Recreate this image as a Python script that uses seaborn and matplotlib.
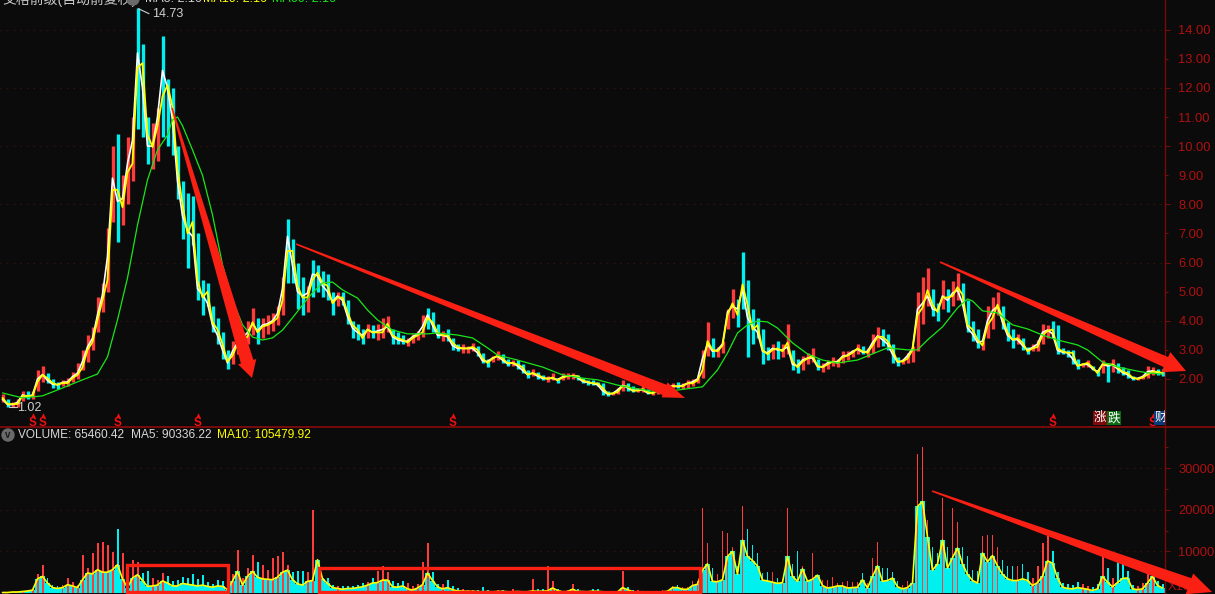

import matplotlib

matplotlib.use("Agg")
import matplotlib.pyplot as plt
import numpy as np
import pandas as pd
import seaborn as sns
from matplotlib.patches import Ellipse, FancyBboxPatch, Polygon

W, H = 1215, 594
AXIS_X = 1165
SPLIT_Y = 427

# price panel: one entry per 5 px column
high = [
    1.5, 1.3, 1.2, 1.3, 1.6, 1.6, 1.6, 2.3, 2.45, 2.2,
    2.0, 1.9, 1.95, 2.05, 2.25, 2.55, 3.0, 3.5, 3.8, 4.8,
    5.3, 7.2, 10.0, 10.4, 9.0, 10.3, 11.0, 14.73, 13.5, 11.0,
    10.8, 11.3, 13.8, 12.3, 12.0, 10.0, 8.8, 8.4, 8.3, 7.0,
    5.4, 5.3, 4.5, 4.1, 3.6, 3.0, 3.3, 3.5, 3.6, 4.0,
    4.45, 4.1, 4.1, 4.2, 4.25, 4.5, 5.5, 7.5, 6.8, 6.0,
    5.5, 5.2, 6.1, 5.9, 5.7, 5.6, 5.0, 5.0, 5.0, 4.7,
    4.0, 3.9, 3.7, 3.9, 3.85, 3.9, 4.1, 4.15, 3.7, 3.6,
    3.5, 3.4, 3.55, 3.65, 4.2, 4.45, 4.3, 3.9, 3.65, 3.7,
    3.4, 3.2, 3.2, 3.15, 3.25, 3.15, 2.9, 2.7, 2.8, 2.95,
    2.85, 2.7, 2.65, 2.65, 2.5, 2.3, 2.35, 2.25, 2.15, 2.1,
    2.2, 2.05, 2.2, 2.2, 2.2, 2.15, 2.05, 1.95, 1.95, 1.9,
    1.85, 1.6, 1.55, 1.7, 1.95, 1.85, 1.75, 1.7, 1.8, 1.65,
    1.6, 1.65, 1.75, 1.8, 1.85, 1.9, 1.85, 1.95, 2.0, 2.05,
    3.0, 3.95, 3.4, 3.1, 3.3, 4.4, 5.1, 4.75, 6.35, 5.4,
    4.4, 4.1, 3.7, 3.1, 3.2, 3.3, 3.2, 3.9, 3.0, 2.7,
    2.8, 2.9, 3.05, 2.7, 2.55, 2.65, 2.75, 2.7, 2.95, 2.95,
    3.0, 3.2, 3.15, 3.05, 3.55, 3.8, 3.7, 3.55, 3.2, 2.75,
    2.7, 2.9, 3.15, 5.0, 5.5, 5.8, 5.1, 4.6, 5.4, 5.1,
    5.35, 5.65, 5.3, 4.7, 4.0, 3.7, 3.3, 4.5, 4.8, 5.0,
    4.5, 3.95, 3.7, 3.55, 3.4, 3.1, 3.2, 3.35, 3.9, 3.85,
    4.0, 3.85, 3.05, 3.0, 3.0, 2.7, 2.55, 2.65, 2.45, 2.3,
    2.65, 2.55, 2.7, 2.55, 2.4, 2.3, 2.1, 2.05, 2.15, 2.45, 2.4, 2.35, 2.35,
]
low = [
    1.2, 1.02, 1.03, 1.05, 1.25, 1.3, 1.3, 1.6, 1.9, 1.85,
    1.7, 1.65, 1.75, 1.75, 1.9, 2.0, 2.3, 2.6, 3.0, 3.6,
    4.3, 5.0, 7.4, 6.7, 7.3, 8.0, 8.8, 10.6, 10.3, 9.4,
    9.2, 9.5, 10.3, 10.0, 9.7, 8.2, 6.8, 5.8, 6.6, 4.7,
    4.2, 4.5, 3.6, 3.2, 2.7, 2.35, 2.5, 2.85, 3.0, 3.2,
    3.5, 3.2, 3.4, 3.55, 3.65, 3.85, 4.2, 5.3, 5.3, 4.4,
    4.2, 4.3, 4.8, 5.0, 4.8, 4.7, 4.2, 4.5, 4.55, 3.9,
    3.4, 3.35, 3.2, 3.4, 3.4, 3.35, 3.4, 3.6, 3.2, 3.2,
    3.2, 3.15, 3.25, 3.35, 3.45, 3.7, 3.6, 3.4, 3.3, 3.3,
    3.0, 2.95, 2.9, 2.9, 2.95, 2.8, 2.55, 2.4, 2.6, 2.65,
    2.55, 2.45, 2.45, 2.35, 2.2, 2.05, 2.1, 2.0, 1.95, 1.9,
    1.95, 1.85, 1.95, 2.0, 2.0, 1.95, 1.85, 1.8, 1.8, 1.75,
    1.45, 1.4, 1.45, 1.5, 1.6, 1.6, 1.55, 1.55, 1.55, 1.5,
    1.45, 1.5, 1.55, 1.6, 1.7, 1.7, 1.65, 1.7, 1.75, 1.85,
    2.05, 2.8, 2.75, 2.75, 2.9, 3.7, 4.1, 3.8, 4.4, 2.75,
    3.2, 3.4, 2.5, 2.65, 2.7, 2.7, 2.75, 2.85, 2.3, 2.2,
    2.3, 2.5, 2.6, 2.3, 2.25, 2.35, 2.45, 2.4, 2.55, 2.65,
    2.75, 2.85, 2.85, 2.75, 2.9, 3.1, 3.15, 3.0, 2.55, 2.45,
    2.5, 2.55, 2.6, 2.95, 3.9, 4.5, 4.15, 4.0, 4.4, 4.3,
    4.5, 4.7, 4.5, 3.6, 3.3, 3.05, 3.0, 3.4, 3.7, 4.2,
    3.7, 3.3, 3.05, 3.2, 3.0, 2.85, 2.95, 2.95, 3.2, 3.4,
    3.4, 2.85, 2.85, 2.75, 2.5, 2.35, 2.4, 2.4, 2.3, 2.1,
    2.2, 1.9, 2.25, 2.2, 2.15, 2.05, 1.95, 1.95, 2.0, 2.05, 2.15, 2.15, 2.1,
]
ma5 = [
    1.3, 1.12, 1.12, 1.2, 1.45, 1.4, 1.45, 2.0, 2.15, 1.95,
    1.82, 1.8, 1.88, 1.9, 2.08, 2.2, 2.6, 3.1, 3.4, 4.2,
    4.9, 6.2, 8.9, 8.1, 8.2, 9.4, 10.2, 13.2, 12.0, 10.0,
    10.0, 11.0, 12.6, 12.0, 10.9, 8.8, 7.6, 7.1, 6.9, 5.1,
    4.9, 4.6, 3.85, 3.5, 3.0, 2.55, 2.95, 3.25, 3.4, 3.6,
    3.9, 3.65, 3.85, 3.9, 4.0, 4.25, 5.1, 6.9, 5.9, 5.0,
    4.85, 4.95, 5.6, 5.55, 5.2, 5.0, 4.65, 4.85, 4.7, 4.15,
    3.75, 3.6, 3.5, 3.7, 3.6, 3.65, 3.7, 3.8, 3.45, 3.35,
    3.3, 3.3, 3.45, 3.55, 3.8, 4.2, 3.85, 3.5, 3.5, 3.45,
    3.15, 3.05, 3.05, 3.05, 3.05, 2.9, 2.62, 2.6, 2.72, 2.78,
    2.65, 2.52, 2.55, 2.45, 2.3, 2.15, 2.2, 2.1, 2.02, 2.02,
    2.02, 1.98, 2.07, 2.1, 2.1, 2.05, 1.92, 1.88, 1.85, 1.8,
    1.6, 1.48, 1.5, 1.62, 1.78, 1.7, 1.6, 1.62, 1.63, 1.52,
    1.52, 1.62, 1.68, 1.72, 1.76, 1.74, 1.78, 1.85, 1.9, 2.0,
    2.7, 3.2, 2.95, 3.0, 3.2, 4.3, 4.5, 4.4, 5.1, 4.1,
    3.8, 3.6, 2.95, 2.9, 3.05, 3.0, 3.0, 3.1, 2.5, 2.45,
    2.65, 2.72, 2.72, 2.42, 2.42, 2.55, 2.58, 2.6, 2.78, 2.82,
    2.95, 3.02, 2.92, 2.95, 3.25, 3.48, 3.35, 3.2, 2.85, 2.58,
    2.62, 2.8, 3.05, 4.4, 4.6, 4.85, 4.4, 4.35, 4.85, 4.7,
    4.95, 5.05, 4.6, 3.75, 3.55, 3.25, 3.3, 4.0, 4.35, 4.5,
    3.95, 3.5, 3.35, 3.35, 3.15, 3.0, 3.08, 3.2, 3.6, 3.68,
    3.55, 2.98, 2.92, 2.9, 2.7, 2.45, 2.5, 2.5, 2.35, 2.25,
    2.5, 2.45, 2.48, 2.35, 2.22, 2.15, 2.02, 2.02, 2.08, 2.25, 2.28, 2.22, 2.18,
]
ma10 = [
    1.35, 1.14, 1.14, 1.14, 1.42, 1.42, 1.42, 1.9, 2.14, 2.03,
    1.86, 1.8, 1.86, 1.86, 2.03, 2.14, 2.4, 3.0, 3.27, 4.03,
    4.71, 5.4, 8.5, 8.5, 7.9, 9.1, 9.4, 12.7, 12.85, 10.4,
    9.97, 10.7, 11.7, 12.1, 11.35, 9.2, 8.0, 7.0, 7.4, 5.4,
    4.8, 5.0, 3.95, 3.7, 3.2, 2.6, 2.8, 3.2, 3.35, 3.45,
    3.95, 3.6, 3.8, 3.85, 3.95, 4.1, 4.7, 6.4, 6.4, 5.2,
    4.8, 4.8, 5.4, 5.65, 5.3, 5.2, 4.6, 4.8, 4.8, 4.3,
    3.85, 3.7, 3.4, 3.7, 3.6, 3.6, 3.6, 3.9, 3.5, 3.4,
    3.35, 3.25, 3.4, 3.5, 3.6, 4.1, 3.95, 3.6, 3.5, 3.5,
    3.25, 3.1, 3.05, 3.05, 3.1, 3.0, 2.7, 2.55, 2.7, 2.8,
    2.7, 2.55, 2.55, 2.5, 2.4, 2.15, 2.2, 2.15, 2.05, 2.0,
    2.05, 1.95, 2.05, 2.1, 2.1, 2.1, 1.95, 1.9, 1.85, 1.85,
    1.7, 1.5, 1.5, 1.55, 1.75, 1.75, 1.6, 1.6, 1.65, 1.55,
    1.5, 1.6, 1.65, 1.7, 1.75, 1.75, 1.75, 1.85, 1.85, 1.95,
    2.3, 3.3, 3.0, 2.95, 3.15, 4.2, 4.6, 4.2, 5.25, 4.55,
    3.7, 3.85, 3.0, 2.85, 3.0, 3.05, 2.95, 3.25, 2.6, 2.4,
    2.6, 2.7, 2.8, 2.45, 2.4, 2.5, 2.6, 2.55, 2.75, 2.8,
    2.9, 3.05, 2.95, 2.9, 3.15, 3.45, 3.45, 3.3, 3.0, 2.6,
    2.6, 2.7, 3.0, 4.2, 4.45, 5.05, 4.55, 4.3, 4.8, 4.8,
    4.85, 5.15, 4.9, 3.85, 3.7, 3.35, 3.15, 3.85, 4.1, 4.55,
    4.1, 3.6, 3.35, 3.4, 3.25, 2.95, 3.05, 3.1, 3.5, 3.65,
    3.7, 3.05, 2.95, 2.9, 2.9, 2.45, 2.5, 2.55, 2.4, 2.2,
    2.5, 2.5, 2.5, 2.4, 2.25, 2.2, 2.05, 2.0, 2.05, 2.15, 2.25, 2.25, 2.2,
]
# columns whose tall wick is cyan in the picture
cyan_days = [27, 32, 57, 62, 148, 85]

# long moving average, read at its bends
long_ma_day = [
    0, 4, 8, 12, 16, 19, 21, 23, 25, 27, 29, 31, 33, 34, 35, 36, 38, 40, 42, 44,
    46, 48, 50, 52, 54, 56, 58, 60, 62, 64, 66, 68, 71, 73, 75, 78, 81, 85, 87, 91,
    94, 97, 99, 103, 108, 112, 116, 119, 123, 126, 131, 135, 140, 143, 145, 147, 149, 151, 153, 155,
    158, 161, 164, 167, 171, 175, 177, 181, 183, 185, 188, 191, 193, 194, 196, 199, 202, 205, 208, 211,
    215, 217, 220, 223, 227, 229, 232,
]
long_ma = [
    1.52, 1.35, 1.42, 1.69, 1.97, 2.17, 2.76, 4.03, 5.47, 7.29, 8.84, 9.87, 10.38, 10.9, 11.0, 10.7, 9.87, 9.0, 7.64, 5.92,
    4.71, 3.86, 3.44, 3.34, 3.41, 3.68, 4.1, 4.54, 4.96, 5.3, 5.33, 5.06, 4.78, 4.37, 4.03, 3.68, 3.55, 3.55, 3.58, 3.51,
    3.41, 3.07, 2.82, 2.65, 2.41, 2.14, 2.03, 1.97, 1.79, 1.69, 1.55, 1.62, 1.73, 2.31, 2.89, 3.58, 3.86, 3.99, 3.96, 3.75,
    3.24, 2.86, 2.65, 2.55, 2.65, 2.93, 3.07, 3.0, 3.0, 3.34, 3.79, 4.44, 4.75, 4.68, 4.34, 4.27, 3.86, 3.72, 3.51, 3.34,
    3.17, 3.0, 2.58, 2.41, 2.27, 2.21, 2.17,
]

# volume panel
vol_peak = [
    150, 200, 300, 300, 500, 700, 1000, 4500, 6800, 3500,
    2000, 1700, 2000, 3600, 2600, 2000, 9200, 6000, 9600, 12000,
    12200, 11600, 9800, 15400, 9600, 2500, 8000, 7500, 4800, 5400,
    3600, 3200, 4800, 4000, 3000, 3200, 3800, 3500, 4500, 3400,
    4400, 2600, 2200, 3200, 2800, 1600, 4600, 10400, 3600, 6000,
    9200, 7400, 6800, 5600, 8400, 8800, 9800, 6800, 5000, 5400,
    5200, 5000, 20000, 6000, 3500, 3500, 2000, 1800, 1600, 1800,
    1800, 2000, 2400, 2600, 3500, 5200, 6400, 5000, 2800, 2400,
    3000, 2500, 1600, 2200, 7500, 12000, 5000, 2200, 2200, 3200,
    1800, 1200, 900, 700, 800, 700, 1500, 700, 600, 700,
    800, 500, 900, 500, 400, 500, 3300, 1000, 900, 6500,
    2800, 1000, 600, 700, 2200, 900, 500, 400, 900, 900,
    600, 500, 500, 500, 5300, 1500, 800, 800, 600, 500,
    500, 500, 700, 700, 1800, 2000, 1400, 1500, 3000, 2800,
    20400, 12000, 6000, 4500, 14800, 14500, 11000, 6500, 20900, 15500,
    11500, 9500, 4800, 5000, 5000, 3700, 3400, 20400, 7000, 10000,
    6500, 3200, 9500, 4200, 3200, 3200, 3800, 2400, 2600, 3000,
    2600, 2600, 4800, 2500, 8400, 12200, 6000, 6000, 5000, 2800,
    2000, 3000, 3700, 33400, 35000, 17500, 11000, 9600, 22800, 11000,
    20400, 17000, 11000, 9000, 5500, 5200, 13700, 14000, 13900, 11000,
    8000, 6500, 6500, 6500, 7000, 5000, 3600, 6500, 12000, 13700,
    10000, 5000, 2500, 2200, 2000, 2600, 2200, 1700, 1400, 2200,
    9600, 6000, 3500, 8400, 8000, 5400, 2000, 1600, 2500, 5000, 6000, 3000, 2200,
]
vol_ma = [
    120, 120, 240, 240, 360, 480, 700, 3400, 4000, 2400,
    1300, 1100, 1300, 2000, 1700, 1300, 3200, 4800, 4600, 5600,
    5000, 5000, 5600, 6800, 3400, 1300, 3600, 4400, 3000, 1600,
    1700, 1900, 2900, 2400, 1700, 1700, 2300, 2100, 1900, 1700,
    1900, 1600, 1400, 1700, 1600, 800, 2900, 5200, 1900, 4000,
    5200, 3800, 3400, 3300, 3200, 3800, 5000, 5500, 3200, 2200,
    1900, 2800, 3000, 8000, 3400, 2300, 1300, 1100, 900, 1100,
    1100, 1300, 1500, 1900, 2400, 2500, 3100, 3100, 1500, 1400,
    1700, 1000, 700, 1200, 2000, 4800, 3000, 1500, 1000, 1300,
    800, 500, 450, 400, 400, 350, 300, 350, 300, 350,
    400, 300, 300, 350, 300, 300, 500, 400, 450, 500,
    1200, 600, 300, 350, 900, 400, 350, 300, 450, 400,
    300, 250, 200, 250, 1300, 800, 350, 250, 300, 250,
    250, 250, 300, 400, 1300, 1300, 900, 900, 1800, 2100,
    5500, 7000, 2800, 2700, 3200, 8800, 10000, 4500, 12700, 8800,
    7800, 6500, 3100, 2900, 2600, 2300, 2500, 8800, 4000, 2800,
    5800, 2800, 3300, 4300, 1800, 1200, 1400, 1700, 1700, 1200,
    1300, 1400, 3200, 1200, 4000, 6500, 2800, 3000, 3600, 1500,
    1000, 1300, 2400, 20800, 22000, 13500, 5500, 7000, 12700, 6000,
    8500, 10800, 7000, 4500, 3000, 2400, 9600, 7500, 9000, 6500,
    4500, 3400, 3000, 3000, 3400, 3000, 1800, 2500, 4000, 7700,
    7200, 3600, 1400, 1100, 1000, 1300, 1100, 900, 600, 1000,
    4000, 2600, 1500, 2500, 3500, 3600, 1000, 800, 1000, 2400, 4000, 1800, 1200,
]

price_major = [2, 4, 6, 8, 10, 12, 14]
price_minor = [3, 5, 7, 9, 11, 13]
vol_ticks = [10000, 20000, 30000]
vol_minor = [5000, 15000, 25000, 35000]
signal_days = [6, 8, 23, 39, 90, 210, 230]

# tapered arrows and boxes drawn by hand on the screenshot, in pixels
arrow_px = [
    (172, 108, 252, 378, 13, 19, 17),
    (296, 244, 685, 398, 11, 16, 22),
    (940, 262, 1186, 371, 11, 22, 22),
    (932, 491, 1212, 592, 12, 22, 24),
]
box_px = [(127, 565, 228, 592), (319, 568, 700, 592)]

BG = "#0b0b0b"
AXIS_RED = "#7a0a0a"
TICK_RED = "#b01010"
GRID_RED = "#4a1210"
ARROW_RED = "#fb2014"
UP = "#ff3c3c"
DOWN = "#00f0f0"

sns.set_theme(style="dark", rc={"axes.facecolor": BG, "figure.facecolor": BG})
plt.rcParams["font.family"] = ["Liberation Sans", "Noto Sans CJK SC", "DejaVu Sans"]


def to_fig(x, y):
    return x / W, 1 - y / H


def add_arrow(fig, x0, y0, x1, y1, shaft, head, head_len):
    d = np.array([x1 - x0, y1 - y0], dtype=float)
    d /= np.hypot(*d)
    n = np.array([-d[1], d[0]])
    tip = np.array([x1, y1])
    base = tip - d * head_len
    start = np.array([x0, y0])
    pts = [
        start + n * 0.8,
        base + n * shaft / 2,
        base + n * head / 2,
        tip,
        base - n * head / 2,
        base - n * shaft / 2,
        start - n * 0.8,
    ]
    fig.add_artist(Polygon([to_fig(*p) for p in pts], closed=True, transform=fig.transFigure,
                           facecolor=ARROW_RED, edgecolor="none", zorder=20))


def style_axis(ax):
    for side in ("top", "left", "bottom"):
        ax.spines[side].set_visible(False)
    ax.spines["right"].set_color(AXIS_RED)
    ax.spines["right"].set_linewidth(1)
    ax.yaxis.tick_right()
    ax.set_xticks([])
    ax.set_xlabel("")
    ax.set_ylabel("")
    ax.tick_params(axis="y", which="major", colors=AXIS_RED, length=3.6, width=0.8, pad=6,
                   labelcolor=TICK_RED, labelsize=9.3)
    ax.tick_params(axis="y", which="minor", colors=AXIS_RED, length=1.8, width=0.8, pad=7.8,
                   labelcolor=TICK_RED, labelsize=9.3)
    ax.grid(False)


day = np.arange(len(ma10))
fig = plt.figure(figsize=(W / 100, H / 100), dpi=100)
ax_p = fig.add_axes([0, 1 - SPLIT_Y / H, AXIS_X / W, SPLIT_Y / H])
ax_v = fig.add_axes([0, 0, AXIS_X / W, (H - SPLIT_Y - 1) / H])

# candles: colour follows the short average
rising = np.diff(np.array(ma5), prepend=ma5[0]) >= 0
colors = [DOWN if d in cyan_days else (UP if r else DOWN) for d, r in zip(day, rising)]
for level in price_major:
    ax_p.axhline(level, color=GRID_RED, lw=0.8, ls=(0, (1, 5)), zorder=1)
ax_p.vlines(day, low, high, colors=colors, lw=2.4, zorder=2)
sns.lineplot(x=day, y=ma5, color="white", lw=1.2, ax=ax_p, zorder=3, errorbar=None)
sns.lineplot(x=day, y=ma10, color="#ffff00", lw=1.3, ax=ax_p, zorder=4, errorbar=None)
sns.lineplot(x=long_ma_day, y=long_ma, color="#19e619", lw=0.9, ax=ax_p, zorder=5, errorbar=None)
ax_p.set_xlim(-0.5, len(day) - 0.5)
ax_p.set_ylim(0.35, 15.02)
ax_p.set_yticks(price_major, [f"{t:.2f}" for t in price_major])
ax_p.set_yticks(price_minor, [f"{t:.2f}" for t in price_minor], minor=True)
style_axis(ax_p)

ax_p.text(30.0, 14.55, "14.73", color="#d0d0d0", fontsize=9, va="center", zorder=6)
ax_p.plot([27.2, 29.3], [14.72, 14.55], color="#d0d0d0", lw=0.8, zorder=6)
ax_p.text(3.0, 1.0, "1.02", color="#d0d0d0", fontsize=9, va="center", zorder=6)
ax_p.plot([1.2, 2.8], [1.02, 1.02], color="#d0d0d0", lw=0.8, zorder=6)

for d in signal_days:
    ax_p.text(d, 0.5, "S", color="#f01010", fontsize=8.5, fontweight="bold", ha="center", va="center", zorder=6)
ax_p.scatter(signal_days, [0.76] * len(signal_days), marker="^", s=10, color="#f01010", linewidths=0, zorder=6)
ax_p.text(219.5, 0.66, "涨", color="white", fontsize=9, ha="center", va="center", zorder=6,
          bbox=dict(facecolor="#7c0a0a", edgecolor="none", pad=0.6))
ax_p.text(222.3, 0.66, "跌", color="white", fontsize=9, ha="center", va="center", zorder=6,
          bbox=dict(facecolor="#0c6a12", edgecolor="none", pad=0.6))
ax_p.text(231.7, 0.66, "财", color="white", fontsize=9, ha="center", va="center", zorder=6, clip_on=True,
          bbox=dict(facecolor="#0c3a78", edgecolor="none", pad=0.6))

# volume: filled columns up to the average, thin bars to the daily peak
vol_frame = pd.DataFrame({"day": day, "peak": vol_peak, "base": vol_ma,
                          "dir": ["up" if r else "down" for r in rising]})
palette = {"up": UP, "down": DOWN}
for level in vol_ticks:
    ax_v.axhline(level, color=GRID_RED, lw=0.8, ls=(0, (1, 5)), zorder=0)
sns.barplot(data=vol_frame, x="day", y="base", color=DOWN, native_scale=True, width=1.0, linewidth=0,
            errorbar=None, ax=ax_v, zorder=2, saturation=1)
sns.barplot(data=vol_frame, x="day", y="peak", hue="dir", palette=palette, native_scale=True, dodge=False,
            width=0.4, linewidth=0, legend=False, errorbar=None, ax=ax_v, zorder=3, saturation=1)
sns.lineplot(x=day, y=vol_ma, color="#ffff00", lw=1.2, ax=ax_v, zorder=5, errorbar=None)
ax_v.set_xlim(-0.5, len(day) - 0.5)
ax_v.set_ylim(-240, 39660)
ax_v.set_yticks(vol_ticks, [str(t) for t in vol_ticks])
ax_v.set_yticks(vol_minor, minor=True)
style_axis(ax_v)

# separator and headers
fig.add_artist(plt.Line2D([0, 1], [1 - SPLIT_Y / H] * 2, color="#8a0a0a", lw=1.2, transform=fig.transFigure))
fig.text(*to_fig(1168, 587), "X100", color=TICK_RED, fontsize=9.3, va="center", ha="left")
fig.text(*to_fig(2, -1), "艾格前级(自动前复权)", color="#c8c8c8", fontsize=10, va="center", ha="left")
fig.text(*to_fig(145, -1.5), "MA5: 2.16", color="#d0d0d0", fontsize=9, va="center", ha="left")
fig.text(*to_fig(203, -1.5), "MA10: 2.16", color="#ffff00", fontsize=9, va="center", ha="left")
fig.text(*to_fig(272, -1.5), "MA60: 2.16", color="#19e619", fontsize=9, va="center", ha="left")
fig.text(*to_fig(18, 435), "VOLUME: 65460.42", color="#d8d8d8", fontsize=8.6, va="center", ha="left")
fig.text(*to_fig(131, 435), "MA5: 90336.22", color="#d8d8d8", fontsize=8.6, va="center", ha="left")
fig.text(*to_fig(217, 435), "MA10: 105479.92", color="#ffff00", fontsize=8.6, va="center", ha="left")
for cx, cy in [(8, 435), (133, -1)]:
    fig.add_artist(Ellipse(to_fig(cx, cy), 12 / W, 12 / H, transform=fig.transFigure, color="#6a6a6a", zorder=6))
fig.text(*to_fig(8, 434.5), "v", color="#1c1c1c", fontsize=7, fontweight="bold", ha="center", va="center", zorder=7)

for x0, y0, x1, y1 in box_px:
    fig.add_artist(FancyBboxPatch(to_fig(x0, y1), (x1 - x0) / W, (y1 - y0) / H, boxstyle="square,pad=0",
                                  transform=fig.transFigure, facecolor="none", edgecolor=ARROW_RED, lw=2.4, zorder=20))
for spec in arrow_px:
    add_arrow(fig, *spec)

fig.savefig("out.png", dpi=100, facecolor=BG)
plt.close(fig)
